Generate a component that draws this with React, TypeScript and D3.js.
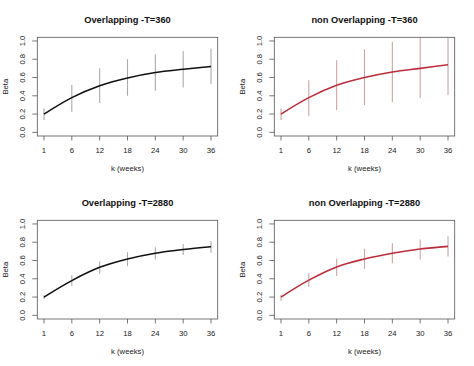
import React from "react";
import * as d3 from "d3";

const kWeeks = [1, 6, 12, 18, 24, 30, 36];
const yTicks = [0, 0.2, 0.4, 0.6, 0.8, 1.0];

// beta estimates and error bar ends
const betaOv360 = [0.2, 0.38, 0.51, 0.595, 0.655, 0.69, 0.72];
const lowOv360 = [0.135, 0.225, 0.32, 0.4, 0.455, 0.49, 0.53];
const highOv360 = [0.26, 0.52, 0.7, 0.8, 0.855, 0.89, 0.915];

const betaNon360 = [0.2, 0.38, 0.515, 0.6, 0.66, 0.7, 0.74];
const lowNon360 = [0.135, 0.18, 0.245, 0.3, 0.33, 0.375, 0.405];
const highNon360 = [0.26, 0.57, 0.79, 0.91, 0.99, 1.1, 1.1];

const betaOv2880 = [0.2, 0.38, 0.525, 0.617, 0.68, 0.72, 0.75];
const lowOv2880 = [0.18, 0.325, 0.456, 0.54, 0.61, 0.66, 0.685];
const highOv2880 = [0.22, 0.44, 0.59, 0.69, 0.745, 0.78, 0.81];

const betaNon2880 = [0.2, 0.385, 0.53, 0.617, 0.68, 0.726, 0.755];
const lowNon2880 = [0.16, 0.31, 0.43, 0.51, 0.57, 0.61, 0.645];
const highNon2880 = [0.225, 0.46, 0.62, 0.73, 0.79, 0.83, 0.865];

const panels = [
  { title: "Overlapping -T=360", beta: betaOv360, low: lowOv360, high: highOv360, line: "#111111", bar: "#aaaaaa" },
  { title: "non Overlapping -T=360", beta: betaNon360, low: lowNon360, high: highNon360, line: "#bb2f3c", bar: "#cfa3a3" },
  { title: "Overlapping -T=2880", beta: betaOv2880, low: lowOv2880, high: highOv2880, line: "#111111", bar: "#aaaaaa" },
  { title: "non Overlapping -T=2880", beta: betaNon2880, low: lowNon2880, high: highNon2880, line: "#bb2f3c", bar: "#cfa3a3" },
];

const W = 474;
const H = 366;
const PW = 237;
const PH = 183;
const box = { left: 37.3, right: 217.7, top: 37.3, bottom: 136 };
const font = "Liberation Sans, Arial, Helvetica, sans-serif";

const Panel = ({ p, idx }) => {
  const x = d3.scaleLinear().domain([0.76, 7.24]).range([box.left, box.right]);
  const y = d3.scaleLinear().domain([-0.04, 1.04]).range([box.bottom, box.top]);
  const pts = kWeeks.map((k, i) => [x(i + 1), y(p.beta[i])]);
  const path = d3.line().curve(d3.curveMonotoneX)(pts);
  const ox = (idx % 2) * PW;
  const oy = Math.floor(idx / 2) * PH;
  const clipId = `clip-${idx}`;
  return (
    <g transform={`translate(${ox},${oy})`}>
      <defs>
        <clipPath id={clipId}>
          <rect x={box.left} y={box.top} width={box.right - box.left} height={box.bottom - box.top} />
        </clipPath>
      </defs>
      <text x={127.5} y={22.5} textAnchor="middle" fontWeight="bold" fontSize={9.3} fill="#111">
        {p.title}
      </text>
      <g clipPath={`url(#${clipId})`}>
        {kWeeks.map((k, i) => (
          <line key={k} x1={x(i + 1)} x2={x(i + 1)} y1={y(p.low[i])} y2={y(p.high[i])} stroke={p.bar} strokeWidth={1.1} />
        ))}
        <path d={path} fill="none" stroke={p.line} strokeWidth={1.6} />
      </g>
      <rect x={box.left} y={box.top} width={box.right - box.left} height={box.bottom - box.top} fill="none" stroke="#555" strokeWidth={0.8} />
      {kWeeks.map((k, i) => (
        <g key={k}>
          <line x1={x(i + 1)} x2={x(i + 1)} y1={box.bottom} y2={box.bottom + 4.5} stroke="#555" strokeWidth={0.8} />
          <text x={x(i + 1)} y={153} textAnchor="middle" fontSize={7.7} fill="#222">{k}</text>
        </g>
      ))}
      {yTicks.map((t) => (
        <g key={t}>
          <line x1={box.left - 5} x2={box.left} y1={y(t)} y2={y(t)} stroke="#555" strokeWidth={0.8} />
          <text transform={`translate(${24.5},${y(t)}) rotate(-90)`} textAnchor="middle" fontSize={7.7} fill="#222">
            {t.toFixed(1)}
          </text>
        </g>
      ))}
      <text x={127.5} y={171} textAnchor="middle" fontSize={7.7} fill="#222">k (weeks)</text>
      <text transform={`translate(${8},${(box.top + box.bottom) / 2}) rotate(-90)`} textAnchor="middle" fontSize={7.7} fill="#222">
        Beta
      </text>
    </g>
  );
};

export default function App() {
  return (
    <div>
      <style>{`body{margin:0}`}</style>
      <svg width={W} height={H} style={{ display: "block", background: "#fff", fontFamily: font }}>
        {panels.map((p, i) => (
          <Panel key={p.title} p={p} idx={i} />
        ))}
      </svg>
    </div>
  );
}
